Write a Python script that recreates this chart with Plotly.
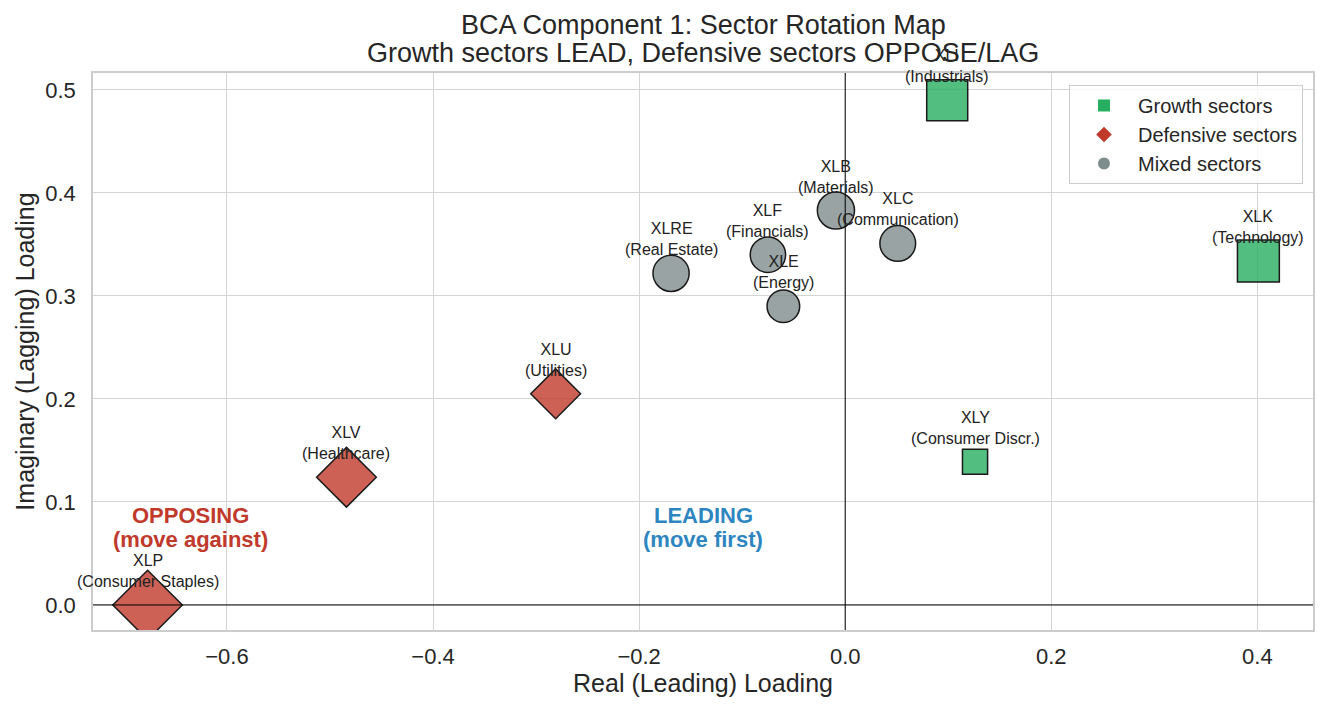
import numpy as np
import plotly.graph_objects as go

tickers = ["XLI", "XLK", "XLY", "XLB", "XLC", "XLF", "XLE", "XLRE", "XLU", "XLV", "XLP"]
sectors = ["Industrials", "Technology", "Consumer Discr.", "Materials", "Communication",
           "Financials", "Energy", "Real Estate", "Utilities", "Healthcare", "Consumer Staples"]
real_loading = [0.099, 0.401, 0.126, -0.009, 0.051, -0.075, -0.060, -0.169, -0.281, -0.484, -0.677]
imag_loading = [0.490, 0.334, 0.139, 0.383, 0.351, 0.340, 0.290, 0.322, 0.205, 0.124, 0.000]
groups = ["Growth", "Growth", "Growth", "Mixed", "Mixed", "Mixed", "Mixed", "Mixed",
          "Defensive", "Defensive", "Defensive"]

title_lines = ["BCA Component 1: Sector Rotation Map",
               "Growth sectors LEAD, Defensive sectors OPPOSE/LAG"]

group_style = {
    "Growth": dict(symbol="square", rgb=(39, 174, 96), scale=58, label="Growth sectors"),
    "Defensive": dict(symbol="diamond", rgb=(192, 57, 43), scale=65, label="Defensive sectors"),
    "Mixed": dict(symbol="circle", rgb=(127, 140, 141), scale=60, label="Mixed sectors"),
}

FONT = "Liberation Sans, Arial, Helvetica, sans-serif"
TXT = "#262626"

# plot-area geometry in pixels (for placing title lines)
W, H = 1329, 711
L, R, T, B = 93, 16, 73, 81
PH = H - T - B


def paper_y(px):
    return (H - B - px) / PH


fig = go.Figure()

for g in ["Growth", "Defensive", "Mixed"]:
    st = group_style[g]
    idx = [i for i, gg in enumerate(groups) if gg == g]
    xs = [real_loading[i] for i in idx]
    ys = [imag_loading[i] for i in idx]
    mags = np.sqrt(np.array(xs) ** 2 + np.array(ys) ** 2)
    sizes = st["scale"] * np.sqrt(mags)
    r, gg_, b = st["rgb"]
    fig.add_trace(go.Scatter(
        x=xs, y=ys, mode="markers", showlegend=False,
        marker=dict(symbol=st["symbol"], size=sizes, color=f"rgba({r},{gg_},{b},0.8)",
                    opacity=1, line=dict(color="#1a1a1a", width=1.5)),
        hoverinfo="skip",
    ))

# legend entries
for g in ["Growth", "Defensive", "Mixed"]:
    st = group_style[g]
    r, gg_, b = st["rgb"]
    fig.add_trace(go.Scatter(
        x=[None], y=[None], mode="markers", name=st["label"],
        marker=dict(symbol=st["symbol"], size=20, color=f"rgb({r},{gg_},{b})",
                    opacity=1, line=dict(width=0)),
    ))

annotations = []
for t, s, x, y in zip(tickers, sectors, real_loading, imag_loading):
    annotations.append(dict(
        x=x, y=y, xref="x", yref="y", text=f"{t}<br>({s})", showarrow=False,
        yanchor="bottom", xanchor="center", yshift=13,
        font=dict(family=FONT, size=16, color="#222222"),
    ))

# quadrant notes, one annotation per line for tight line spacing
for lines, x, col in [(["OPPOSING", "(move against)"], -0.635, "#c0392b"),
                      (["LEADING", "(move first)"], -0.138, "#2e86c1")]:
    for k, line in enumerate(lines):
        annotations.append(dict(
            x=x, y=0.0864 - k * 0.0233, xref="x", yref="y", text=f"<b>{line}</b>",
            showarrow=False, yanchor="middle", font=dict(family=FONT, size=22, color=col),
        ))

# title (two lines)
for k, line in enumerate(title_lines):
    annotations.append(dict(
        x=0.5, y=paper_y(25 + 28 * k), xref="paper", yref="paper", text=line,
        showarrow=False, xanchor="center", yanchor="middle",
        font=dict(family=FONT, size=27, color=TXT),
    ))

fig.update_layout(
    width=W, height=H,
    margin=dict(l=L, r=R, t=T, b=B),
    paper_bgcolor="white", plot_bgcolor="white",
    font=dict(family=FONT, color=TXT),
    annotations=annotations,
    legend=dict(
        x=0.9918, y=0.9785, xanchor="right", yanchor="top",
        bgcolor="rgba(255,255,255,0.8)", bordercolor="#cccccc", borderwidth=1,
        font=dict(family=FONT, size=20, color=TXT),
        itemsizing="constant", itemwidth=58,
    ),
    shapes=[
        dict(type="line", xref="x", yref="paper", x0=0, x1=0, y0=0, y1=1,
             line=dict(color="black", width=1), layer="above"),
        dict(type="line", xref="paper", yref="y", x0=0, x1=1, y0=0, y1=0,
             line=dict(color="black", width=1), layer="above"),
    ],
)

fig.update_xaxes(
    range=[-0.730, 0.454], tickvals=[-0.6, -0.4, -0.2, 0.0, 0.2, 0.4], tickformat=".1f",
    showgrid=True, gridcolor="#d4d4d4", gridwidth=1, zeroline=False,
    showline=True, linecolor="#cccccc", linewidth=1.5, mirror=True,
    ticks="", ticklabelstandoff=6,
    tickfont=dict(family=FONT, size=22, color=TXT),
    title=dict(text="Real (Leading) Loading", font=dict(family=FONT, size=25, color=TXT), standoff=3),
)
fig.update_yaxes(
    range=[-0.0243, 0.5165], tickvals=[0.0, 0.1, 0.2, 0.3, 0.4, 0.5], tickformat=".1f",
    showgrid=True, gridcolor="#d4d4d4", gridwidth=1, zeroline=False,
    showline=True, linecolor="#cccccc", linewidth=1.5, mirror=True,
    ticks="", ticklabelstandoff=11,
    tickfont=dict(family=FONT, size=22, color=TXT),
    title=dict(text="Imaginary (Lagging) Loading", font=dict(family=FONT, size=25, color=TXT), standoff=4),
)

fig.write_html("out.html")
